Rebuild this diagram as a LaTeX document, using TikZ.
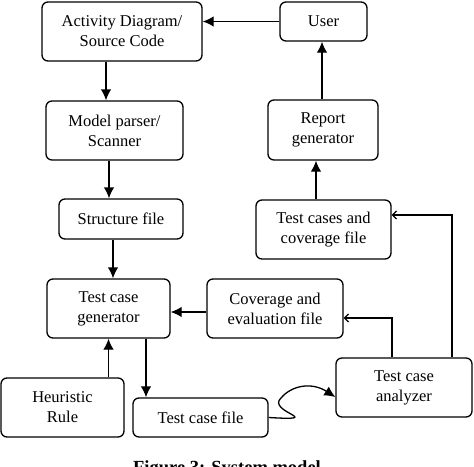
\documentclass[tikz,border=0pt]{standalone}
\usepackage{fontspec}
\setmainfont{Liberation Serif}
\usetikzlibrary{arrows.meta}

\begin{document}
\begin{tikzpicture}[x=1pt,y=-1pt,
    block/.style={shape=rectangle,draw=black,line width=1.3pt,rounded corners=6pt,
        align=center,inner sep=0pt,font=\fontsize{16.5}{20}\selectfont},
    arr/.style={line width=1.3pt,-{Latex[length=11pt,width=10.5pt]}},
    barb/.style={line width=1.3pt,-{Straight Barb[length=4pt,width=8pt]}}]
    \clip (0,0) rectangle (474,466);
    \useasboundingbox (0,0) rectangle (474,466);

    % Left column
    \node[block,minimum width=160pt,minimum height=59pt] (act) at (122,31.5) {Activity Diagram/\\Source Code};
    \node[block,minimum width=137pt,minimum height=59pt] (model) at (114.5,130.5) {Model parser/\\Scanner};
    \node[block,minimum width=124pt,minimum height=40pt] (struct) at (121,219) {Structure file};
    \node[block,minimum width=123pt,minimum height=59pt] (gen) at (108.5,308.5) {Test case\\generator};
    \node[block,minimum width=123pt,minimum height=59pt] (heur) at (62.5,407.5) {Heuristic\\Rule};
    \node[block,minimum width=135pt,minimum height=39pt] (tcf) at (200.5,417.5) {Test case file};

    % Right column
    \node[block,minimum width=87pt,minimum height=39pt] (user) at (323.5,21.5) {User};
    \node[block,minimum width=110pt,minimum height=60pt] (report) at (323,130) {Report\\generator};
    \node[block,minimum width=135pt,minimum height=59pt] (tcov) at (323.5,229.5) {Test cases and\\coverage file};
    \node[block,minimum width=136pt,minimum height=59pt] (cov) at (275,308.5) {Coverage and\\evaluation file};
    \node[block,minimum width=136pt,minimum height=59pt] (tca) at (404,387.5) {Test case\\analyzer};

    \draw[arr] (user.west) -- (act.east |- user.west);
    \draw[arr] ([xshift=-16pt]act.south) -- ([xshift=-16pt]act.south |- model.north);
    \draw[arr] ([xshift=-5.5pt]model.south) -- ([xshift=-5.5pt]model.south |- struct.north);
    \draw[arr] ([xshift=-8pt]struct.south) -- ([xshift=-8pt]struct.south |- gen.north);
    \draw[arr] ([yshift=-3.5pt]cov.west) -- ([yshift=-3.5pt]cov.west -| gen.east);
    \draw[arr] (heur.north -| gen.south) -- (gen.south);
    \draw[arr] ([xshift=37.5pt]gen.south) -- ([xshift=37.5pt]gen.south |- tcf.north);
    \draw[arr] (tcf.east) .. controls (328,421) and (266,412) .. (281,398)
        .. controls (292,385) and (312,382) .. ([yshift=-9.5pt]tca.west);
    \draw[barb] ([xshift=-12pt]tca.north) |- ([yshift=-9.5pt]cov.east);
    \draw[barb] ([xshift=48pt]tca.north) |- ([yshift=14.5pt]tcov.east);
    \draw[arr] ([xshift=-7.5pt]tcov.north) -- ([xshift=-7.5pt]tcov.north |- report.south);
    \draw[arr] ([xshift=-1pt]report.north) -- ([xshift=-1pt]report.north |- user.south);

    % Caption
    \node[anchor=base,font=\fontsize{18.5}{22}\selectfont\bfseries] (cap) at (227,473.5) {Figure 3: System model};
\end{tikzpicture}
\end{document}
